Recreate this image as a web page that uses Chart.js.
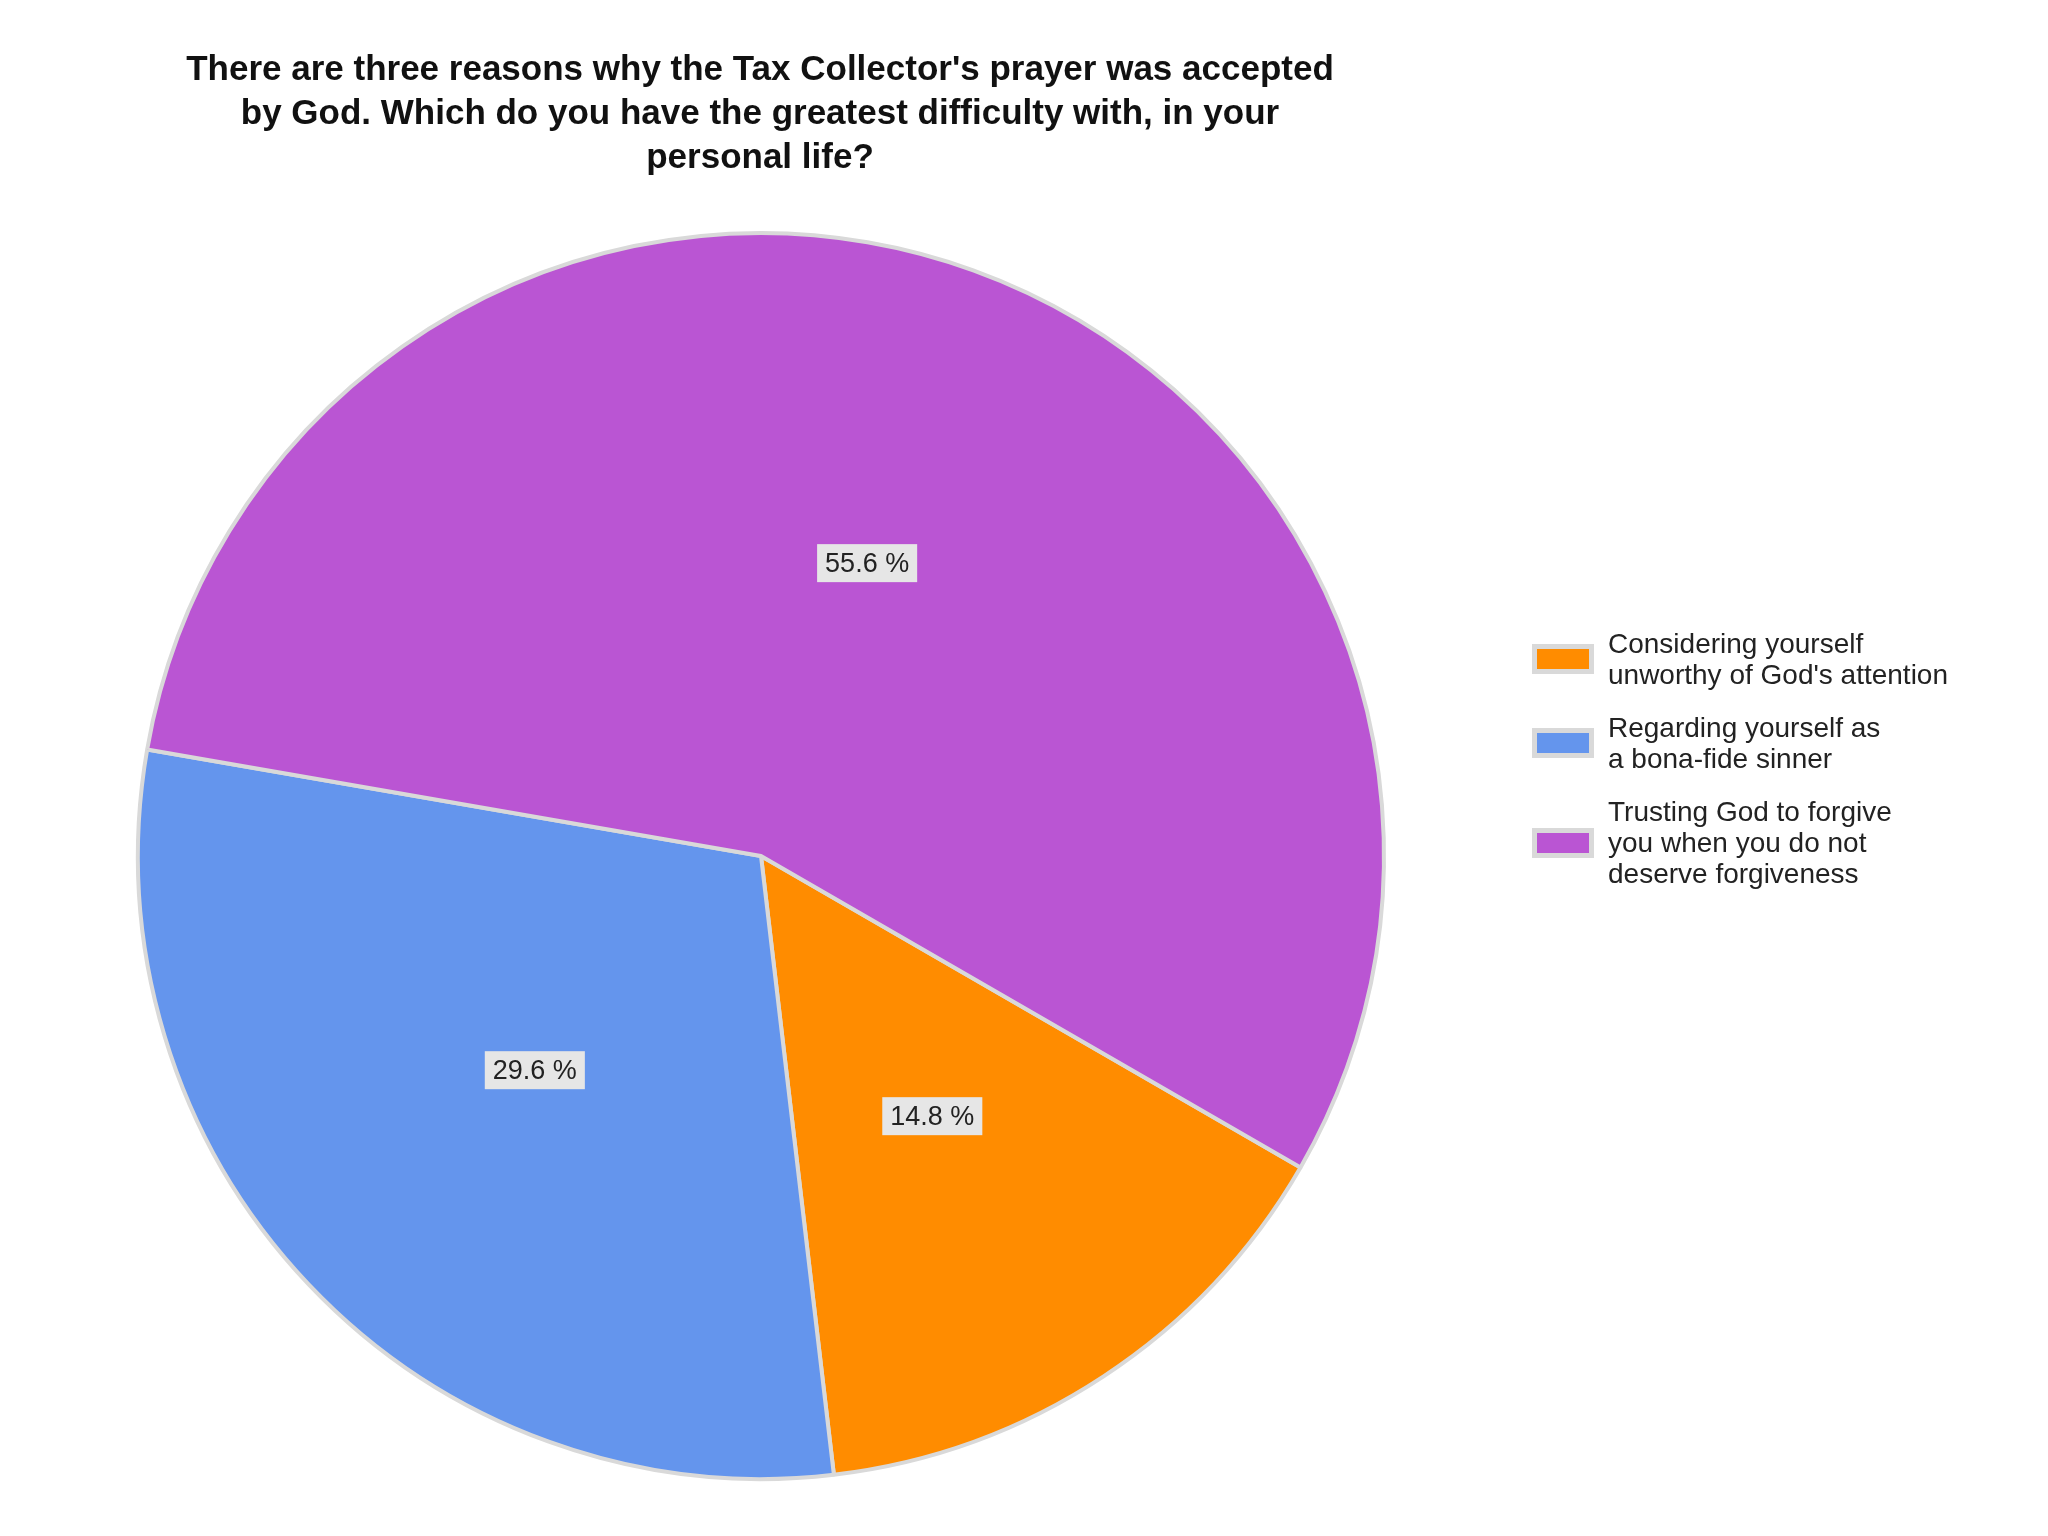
<!DOCTYPE html>
<html>
<head>
<meta charset="utf-8">
<title>Tax Collector's prayer</title>
<style>
    body { margin: 0; background: #fff; font-family: "Liberation Sans", Arial, sans-serif; }
    #wrap { position: relative; width: 2048px; height: 1536px; }
    #title { position: absolute; left: 60px; width: 1400px; top: 46px; text-align: center;
             font-weight: bold; font-size: 35px; line-height: 44px; color: #111; }
    #legend { position: absolute; left: 1532px; top: 628px; font-size: 28px; line-height: 31px; color: #222; }
    .item { display: flex; align-items: center; margin-bottom: 22px; }
    .box { width: 52px; height: 20px; border: 5px solid #d9d9d9; margin-right: 14px; flex: none; }
</style>
</head>
<body>
<div id="wrap">
    <div id="title">There are three reasons why the Tax Collector's prayer was accepted<br>by God. Which do you have the greatest difficulty with, in your<br>personal life?</div>
    <canvas id="myChart" width="2048" height="1536"></canvas>
    <div id="legend"></div>
</div>
<script src="https://cdn.jsdelivr.net/npm/chart.js"></script>
<script>
    const labels = [
        ['Considering yourself', "unworthy of God's attention"],
        ['Regarding yourself as', 'a bona-fide sinner'],
        ['Trusting God to forgive', 'you when you do not', 'deserve forgiveness']
    ];
    const values = [14.8, 29.6, 55.6];
    const colors = ['#FF8C00', '#6495ED', '#BA55D3'];

    // legend as plain html
    const legend = document.getElementById('legend');
    labels.forEach((lines, i) => {
        const item = document.createElement('div');
        item.className = 'item';
        item.innerHTML = `<div class="box" style="background:${colors[i]}"></div><div>${lines.join('<br>')}</div>`;
        legend.appendChild(item);
    });

    const valueLabels = {
        id: 'valueLabels',
        afterDatasetsDraw(chart) {
            const ctx = chart.ctx;
            const meta = chart.getDatasetMeta(0);
            ctx.save();
            ctx.font = '27px "Liberation Sans", Arial, sans-serif';
            ctx.textAlign = 'center';
            ctx.textBaseline = 'middle';
            meta.data.forEach((arc, i) => {
                const pos = arc.tooltipPosition();
                const text = values[i].toFixed(1) + ' %';
                const w = ctx.measureText(text).width + 16;
                ctx.fillStyle = '#e6e6e6';
                ctx.fillRect(pos.x - w / 2, pos.y - 19, w, 38);
                ctx.fillStyle = '#222';
                ctx.fillText(text, pos.x, pos.y + 1);
            });
            ctx.restore();
        }
    };

    new Chart(document.getElementById('myChart'), {
        type: 'pie',
        data: {
            labels: labels.map(l => l.join(' ')),
            datasets: [{
                data: values,
                backgroundColor: colors,
                borderColor: '#d9d9d9',
                borderWidth: 4
            }]
        },
        options: {
            responsive: false,
            animation: false,
            rotation: 120,
            layout: { padding: { left: 136, right: 662, top: 231, bottom: 55 } },
            plugins: {
                legend: { display: false },
                tooltip: { enabled: false }
            }
        },
        plugins: [valueLabels]
    });
</script>
</body>
</html>
